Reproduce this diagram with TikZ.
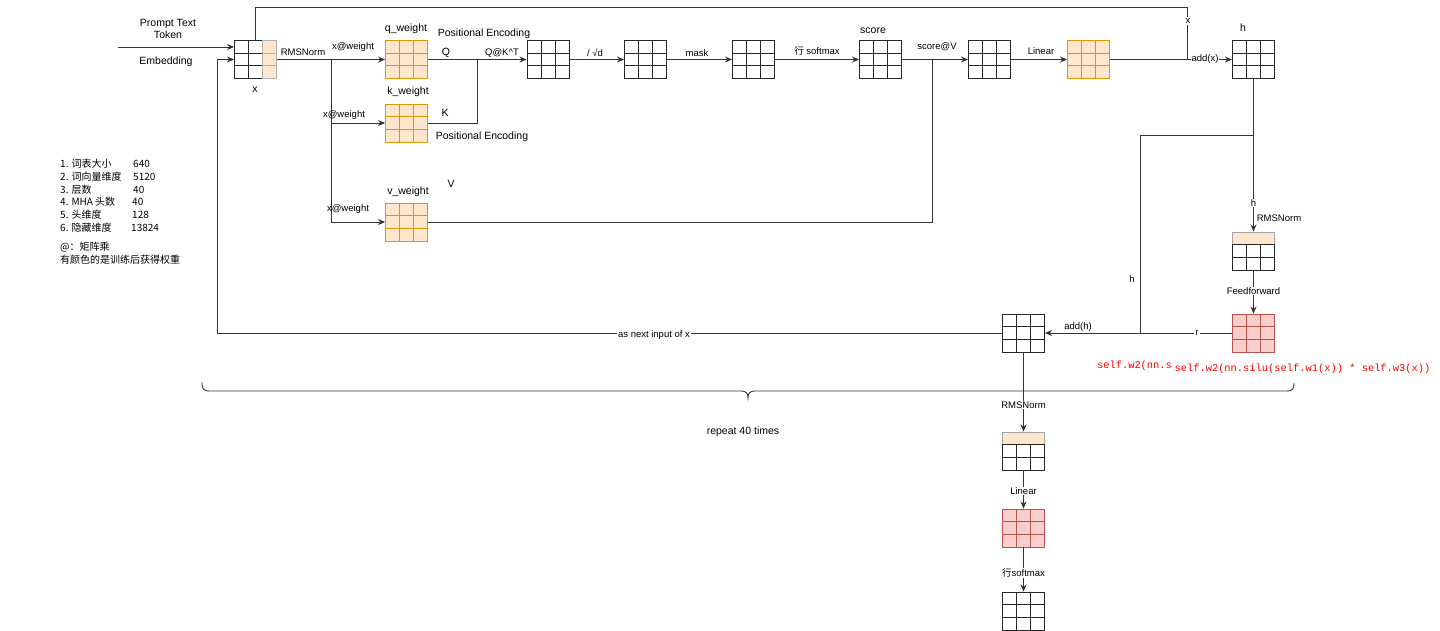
\documentclass[tikz,border=0pt]{standalone}
\usepackage{fontspec}
\setmainfont{Liberation Sans}
\newfontfamily\cjk{Noto Sans CJK SC}
\newfontfamily\codefont{Liberation Mono}
\usepackage{tikz}
\usetikzlibrary{arrows.meta,calc}

\definecolor{peach}{HTML}{FFE6CC}
\definecolor{peachline}{HTML}{D79B00}
\definecolor{rose}{HTML}{F8CECC}
\definecolor{roseline}{HTML}{B85450}

% inner lines of a table cell box: columns, rows, colour
\newcommand{\cellgrid}[3]{%
  \foreach \k in {1,...,#1}{%
    \draw[#3,line width=0.9pt] ($(path picture bounding box.north west)!\k/#1!(path picture bounding box.north east)$) -- ($(path picture bounding box.south west)!\k/#1!(path picture bounding box.south east)$);}%
  \foreach \k in {1,...,#2}{%
    \draw[#3,line width=0.9pt] ($(path picture bounding box.north west)!\k/#2!(path picture bounding box.south west)$) -- ($(path picture bounding box.north east)!\k/#2!(path picture bounding box.south east)$);}%
}

\tikzset{
  cellsize/.style={inner sep=0pt, line width=0.9pt, minimum width=42pt, minimum height=38pt},
  grid3/.style={path picture={\cellgrid{3}{3}{#1}}},
  grid2/.style={path picture={\cellgrid{3}{2}{#1}}},
  grid1/.style={path picture={\cellgrid{1}{3}{#1}}},
  plain/.style={cellsize, draw=black!85, grid3=black!85},
  weight/.style={cellsize, draw=peachline, fill=peach, grid3=peachline},
  learned/.style={cellsize, draw=roseline, fill=rose, grid3=roseline},
  normed/.style={cellsize, minimum height=26pt, draw=black!85, grid2=black!85},
  normbar/.style={cellsize, minimum height=12pt, draw=black!35, fill=peach},
  normcol/.style={cellsize, minimum width=14pt, draw=black!30, fill=peach, grid1=black!30},
  conn/.style={draw=black!80, line width=0.9pt},
  txt/.style={font=\fontsize{10.5}{12.5}\selectfont, inner sep=1pt},
  lbl/.style={font=\fontsize{9.5}{11}\selectfont, inner sep=1pt},
  onl/.style={lbl, fill=white},
  code/.style={font=\codefont\fontsize{10.4}{12}\selectfont, text=red, inner sep=0pt},
  >={Stealth[length=7pt,width=6pt]}
}

\begin{document}
\begin{tikzpicture}[x=1pt,y=-1pt]
\useasboundingbox (0,0) rectangle (1440,630);

% input embedding
\node[plain] (x) at (255.5,59.5) {};
\node[normcol, anchor=east] (xn) at (x.east) {};
\node[txt] (xl) at (255,90) {x};
\coordinate (tok) at (118,47);
\draw[conn,->] (tok) -- (tok -| x.west);
\node[txt, align=center] (prompt) at (168,29) {Prompt Text\\Token};
\node[txt] (emb) at (166,62) {Embedding};

% q, k, v weights
\node[weight] (q) at (406.5,59.5) {};
\node[txt] (ql) at (406,29) {q\_weight};
\node[weight] (k) at (406.5,123) {};
\node[txt] (kl) at (408,92) {k\_weight};
\node[weight] (v) at (406.5,222) {};
\node[txt] (vl) at (408,192) {v\_weight};

\coordinate (split) at (331,59.5);
\draw[conn] (x.east) -- (split);
\node[lbl] (rms) at (303,52) {RMSNorm};
\draw[conn,->] (split) -- (q.west);
\draw[conn,->] (split) |- (k.west);
\draw[conn,->] (split) |- (v.west);
\node[lbl] (xwq) at (353,47) {x@weight};
\node[lbl] (xwk) at (344,115) {x@weight};
\node[lbl] (xwv) at (348,209) {x@weight};

% attention
\coordinate (qk) at (477,59.5);
\draw[conn] (q.east) -- (qk);
\draw[conn] (k.east) -| (qk);
\node[txt] (ql2) at (446,53) {Q};
\node[txt] (kl2) at (445,113) {K};
\node[txt] (vl2) at (451,184) {V};
\node[txt] (peq) at (484,34) {Positional Encoding};
\node[txt] (pek) at (482,137) {Positional Encoding};

\node[plain] (qkt) at (548,59.5) {};
\draw[conn,->] (qk) -- (qkt.west);
\node[lbl] (qktl) at (502,53) {Q@K\textasciicircum T};
\node[plain] (scl) at (645.5,59.5) {};
\draw[conn,->] (qkt.east) -- (scl.west);
\node[lbl] (sqd) at (595,53) {/ √d};
\node[plain] (msk) at (753.5,59.5) {};
\draw[conn,->] (scl.east) -- (msk.west);
\node[lbl] (mskl) at (697,53) {mask};
\node[plain] (score) at (880.5,59.5) {};
\draw[conn,->] (msk.east) -- (score.west);
\node[lbl] (smax) at (817,51) {{\cjk 行} softmax};
\node[txt] (scorel) at (873,31) {score};

\coordinate (sv) at (932,59.5);
\draw[conn] (score.east) -- (sv);
\draw[conn] (v.east) -| (sv);
\node[plain] (attn) at (989.5,59.5) {};
\draw[conn,->] (sv) -- (attn.west);
\node[lbl] (svl) at (937,47) {score@V};
\node[weight] (wo) at (1088.5,59.5) {};
\draw[conn,->] (attn.east) -- (wo.west);
\node[lbl] (lin) at (1041,51) {Linear};

% residual add(x)
\coordinate (addx) at (1187,59.5);
\coordinate (xtop) at (1187,7);
\draw[conn] (x.north) |- (xtop) -- (addx);
\node[onl] (xres) at (1188,21) {x};
\draw[conn] (wo.east) -- (addx);
\node[plain] (h) at (1253.5,59.5) {};
\draw[conn,->] (addx) -- (h.west);
\node[onl] (addxl) at (1205,59.5) {add(x)};
\node[txt] (hl) at (1243,28) {h};

% feedforward
\node[normbar] (ffbar) at (1253.5,238) {};
\node[normed] (ffgrid) at (1253.5,257) {};
\draw[conn,->] (h.south) -- (ffbar.north);
\node[onl] (hl2) at (1253.5,203) {h};
\node[lbl] (rms2) at (1279,218) {RMSNorm};
\node[learned] (ffout) at (1253.5,333) {};
\draw[conn,->] (ffgrid.south) -- (ffout.north);
\node[onl] (ffl) at (1253.5,291) {Feedforward};

% residual add(h)
\coordinate (hsplit) at (1253.5,135);
\coordinate (hres) at (1140,333);
\draw[conn] (hsplit) -| (hres);
\node[lbl] (hl3) at (1132,279) {h};
\node[plain] (nx) at (1023.5,333) {};
\draw[conn] (ffout.west) -- (hres);
\node[onl] (rl) at (1197,333) {r};
\draw[conn,->] (hres) -- (nx.east);
\node[lbl] (addhl) at (1078,327) {add(h)};

% loop back
\coordinate (loop) at (217,59.5);
\draw[conn,->] (nx.west) -| (loop) -- (x.west);
\node[onl] (nextl) at (654,335) {as next input of x};

\node[code] (swa) at (1134.5,366) {self.w2(nn.s};
\node[code] (swb) at (1302.5,368.5) {self.w2(nn.silu(self.w1(x)) * self.w3(x))};

% brace
\draw[conn] (202,382) .. controls (202,389) and (203,391) .. (210,391) -- (741,391)
  .. controls (746,391) and (748,393) .. (748,398)
  .. controls (748,393) and (750,391) .. (755,391) -- (1286,391)
  .. controls (1293,391) and (1294,389) .. (1294,383);
\node[txt] (rep) at (743,432) {repeat 40 times};

% output head
\node[normbar] (obar) at (1023.5,438) {};
\node[normed] (ogrid) at (1023.5,457) {};
\draw[conn,->] (nx.south) -- (obar.north);
\node[onl] (rms3) at (1023.5,405) {RMSNorm};
\node[learned] (logit) at (1023.5,528) {};
\draw[conn,->] (ogrid.south) -- (logit.north);
\node[onl] (lin2) at (1023.5,491) {Linear};
\node[plain] (prob) at (1023.5,611) {};
\draw[conn,->] (logit.south) -- (prob.north);
\node[onl] (smax2) at (1023.5,573) {{\cjk 行}softmax};

% legend
\node[anchor=north west, inner sep=0pt, align=left, font=\cjk\fontsize{10}{12.7}\selectfont] (legend) at (60,159) {%
\makebox[73pt][l]{1. 词表大小}640\\
\makebox[73pt][l]{2. 词向量维度}5120\\
\makebox[73pt][l]{3. 层数}40\\
\makebox[72pt][l]{4. MHA 头数}40\\
\makebox[72pt][l]{5. 头维度}128\\
\makebox[71pt][l]{6. 隐藏维度}13824\\[7pt]
@：矩阵乘\\
有颜色的是训练后获得权重};
\end{tikzpicture}
\end{document}
